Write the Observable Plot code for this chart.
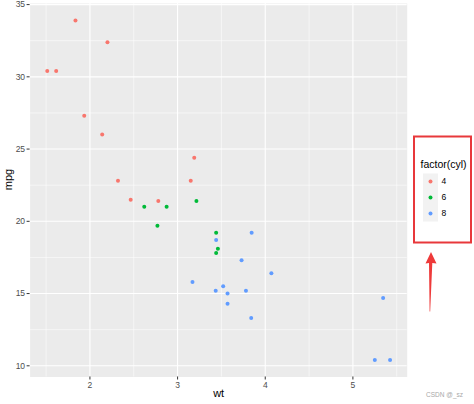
<!DOCTYPE html>
<html><head><meta charset="utf-8">
<script src="https://cdn.jsdelivr.net/npm/d3@7"></script>
<script src="https://cdn.jsdelivr.net/npm/@observablehq/plot@0.6"></script>
<style>
body{margin:0;background:#fff;font-family:"Liberation Sans",Arial,sans-serif}
#wrap{position:relative;width:474px;height:404px}
#wrap>svg{position:absolute;left:0;top:0}
</style></head><body><div id="wrap"></div>
<script>
// mtcars: wt, mpg, cyl
const wt  = [2.620,2.875,2.320,3.215,3.440,3.460,3.570,3.190,3.150,3.440,3.440,4.070,3.730,3.780,5.250,5.424,5.345,2.200,1.615,1.835,2.465,3.520,3.435,3.840,3.845,1.935,2.140,1.513,3.170,2.770,3.570,2.780];
const mpg = [21.0,21.0,22.8,21.4,18.7,18.1,14.3,24.4,22.8,19.2,17.8,16.4,17.3,15.2,10.4,10.4,14.7,32.4,30.4,33.9,21.5,15.5,15.2,13.3,19.2,27.3,26.0,30.4,15.8,19.7,15.0,21.4];
const cyl = [6,6,4,6,8,6,8,4,4,6,6,8,8,8,8,8,8,4,4,4,4,8,8,8,8,4,4,4,8,6,8,4];
const xTicks = [2,3,4,5];
const yTicks = [10,15,20,25,30,35];
const xMinor = [1.5,2.5,3.5,4.5,5.5];
const yMinor = [12.5,17.5,22.5,27.5,32.5];
const cylLevels = ["4","6","8"];
const cylColors = ["#F8766D","#00BA38","#619CFF"];
const legendTitle = "factor(cyl)";
const xLabel = "wt", yLabel = "mpg";
const watermark = "CSDN @_sz";

const data = wt.map((w,i)=>({wt:w, mpg:mpg[i], cyl:String(cyl[i])}));
function expand([a,b]){const d=(b-a)*0.05;return [a-d,b+d];}
const xDomain = expand(d3.extent(wt));
const yDomain = expand(d3.extent(mpg));

const W=474,H=404;
const chart = Plot.plot({
  width:W, height:H,
  marginLeft:29.6, marginRight:67.3, marginTop:3, marginBottom:27.5,
  style:{fontFamily:'"Liberation Sans",Arial,sans-serif', background:"transparent"},
  x:{domain:xDomain},
  y:{domain:yDomain},
  color:{domain:cylLevels, range:cylColors},
  marks:[
    Plot.frame({fill:"#EBEBEB", stroke:"none"}),
    Plot.ruleX(xMinor,{stroke:"#ffffff", strokeWidth:0.55}),
    Plot.ruleY(yMinor,{stroke:"#ffffff", strokeWidth:0.55}),
    Plot.ruleX(xTicks,{stroke:"#ffffff", strokeWidth:1.1}),
    Plot.ruleY(yTicks,{stroke:"#ffffff", strokeWidth:1.1}),
    Plot.dot(data,{x:"wt", y:"mpg", fill:"cyl", r:2, stroke:null}),
    Plot.axisX(xTicks,{tickSize:3, tickPadding:2, stroke:"#333333", fill:"#4D4D4D", fontSize:8.5, label:null}),
    Plot.axisY(yTicks,{tickSize:3, tickPadding:2, stroke:"#333333", fill:"#4D4D4D", fontSize:8.5, label:null}),
    Plot.text([xLabel],{frameAnchor:"bottom", dy:19.5, fontSize:11, fill:"#000"}),
    Plot.text([yLabel],{frameAnchor:"left", dx:-21.5, rotate:-90, fontSize:11, fill:"#000"})
  ]
});
document.getElementById("wrap").appendChild(chart);

// legend + annotation overlay
const ns="http://www.w3.org/2000/svg";
const ov=d3.select("#wrap").append("svg").attr("width",W).attr("height",H)
  .style("font-family",'"Liberation Sans",Arial,sans-serif');
ov.append("text").attr("x",420.5).attr("y",167.5).attr("font-size",10.5).attr("fill","#000").text(legendTitle);
const keyX=423, keyW=15, keyH=16, keyY0=173.5;
ov.append("rect").attr("x",keyX).attr("y",keyY0).attr("width",keyW).attr("height",keyH*cylLevels.length).attr("fill","#F2F2F2");
cylLevels.forEach((lv,i)=>{
  const cy=keyY0+keyH*i+keyH/2;
  ov.append("circle").attr("cx",keyX+keyW/2).attr("cy",cy).attr("r",2).attr("fill",cylColors[i]);
  ov.append("text").attr("x",441.5).attr("y",cy).attr("dy","0.35em").attr("font-size",8.5).attr("fill","#000").text(lv);
});
// red highlight box
ov.append("rect").attr("x",414).attr("y",136.5).attr("width",57).attr("height",106).attr("fill","none").attr("stroke","#E8383B").attr("stroke-width",2);
// arrow
ov.append("path").attr("d","M431,252 L436.5,263.5 L432.3,263 L430.2,311.5 L429.6,311.5 L429,263 L425.5,263.5 Z").attr("fill","#EE3A3A");
// watermark
ov.append("text").attr("x",463).attr("y",396.5).attr("text-anchor","end").attr("font-size",6.5).attr("fill","#A8A8A8").text(watermark);
</script></body></html>
